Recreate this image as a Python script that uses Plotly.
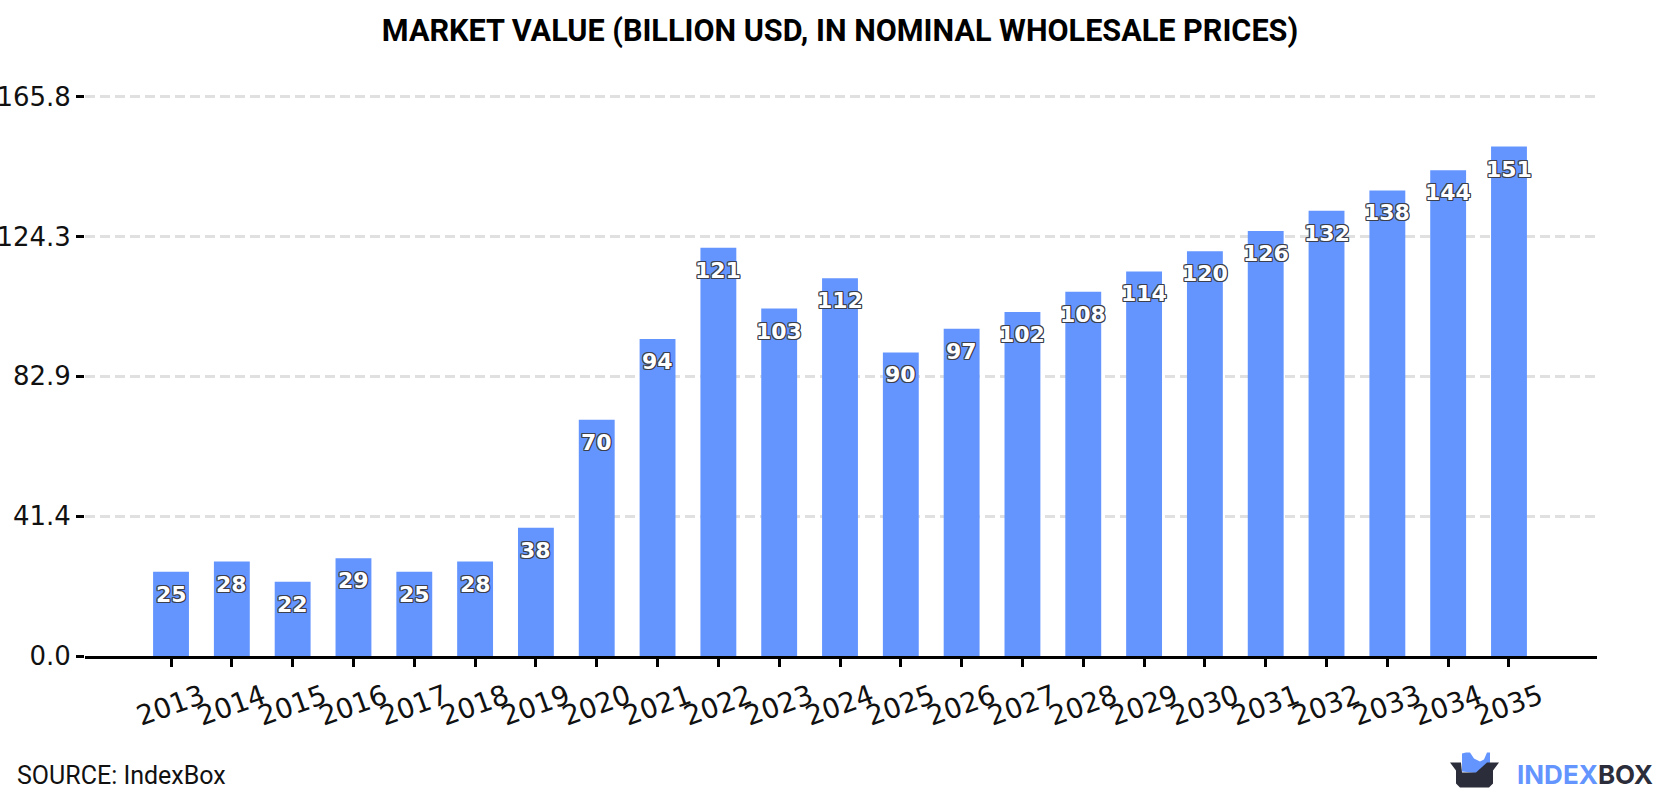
import plotly.graph_objects as go

# Market value by year, billion USD
years = list(range(2013, 2036))
values = [25, 28, 22, 29, 25, 28, 38, 70, 94, 121, 103, 112, 90, 97, 102, 108, 114, 120, 126, 132, 138, 144, 151]
y_ticks = [0.0, 41.4, 82.9, 124.3, 165.8]
title_text = "MARKET VALUE (BILLION USD, IN NOMINAL WHOLESALE PRICES)"
source_text = "SOURCE: IndexBox"

WIDTH, HEIGHT = 1680, 800
LEFT, RIGHT, BOTTOM = 85, 1597, 656.5
PX_PER_UNIT = 3.3764
Y_MAX = 166.6  # a little headroom keeps the top gridline drawn
TOP = BOTTOM - Y_MAX * PX_PER_UNIT
BLUE = "#6495ff"
DARK = "#2b2d3a"


def px(x):
    return (x - LEFT) / (RIGHT - LEFT)


def py(y):
    return (BOTTOM - y) / (BOTTOM - TOP)


def path(points):
    return "M" + " L".join(f"{px(x):.5f},{py(y):.5f}" for x, y in points) + " Z"


OUTLINE = ",".join(f"{dx}px {dy}px 0 #3c404c" for dx in (-1, 0, 1) for dy in (-1, 0, 1) if dx or dy)

fig = go.Figure(go.Bar(x=years, y=values, width=0.59, marker=dict(color=BLUE, line_width=0), hoverinfo="x+y"))

# Value labels sit a fixed distance under each bar top
for year, value in zip(years, values):
    fig.add_annotation(
        x=year, y=value, xref="x", yref="y", yshift=-22.5, text=str(value), showarrow=False,
        font=dict(family="DejaVu Sans", size=22, color="white", weight="bold", shadow=OUTLINE),
    )

fig.add_annotation(
    x=px(15), y=py(776), xref="paper", yref="paper", xanchor="left", yanchor="middle",
    text=source_text, showarrow=False, font=dict(family="Roboto", size=25, color="#111111"),
)
fig.add_annotation(
    x=px(1515), y=py(775), xref="paper", yref="paper", xanchor="left", yanchor="middle", showarrow=False,
    text=f'<b><span style="color:{BLUE}">INDEX</span><span style="color:{DARK}">BOX</span></b>',
    font=dict(family="Inter", size=26),
)

# Brand mark: blue crown behind a dark open box
logo = [
    ([(1462, 772), (1462, 754), (1466, 753), (1470, 753), (1474, 759), (1480, 762), (1484, 760), (1487, 753), (1485, 753), (1490, 753), (1490, 767), (1480, 774)], BLUE),
    ([(1450, 763), (1461, 763), (1462, 773), (1476, 773), (1487, 763), (1499, 763), (1493, 771), (1493, 784), (1489, 788), (1460, 788), (1456, 784), (1456, 771)], DARK),
]
shapes = [
    dict(type="path", xref="paper", yref="paper", path=path(pts), fillcolor=col, line_width=0, layer="above")
    for pts, col in logo
]

fig.update_layout(
    width=WIDTH, height=HEIGHT, margin=dict(l=LEFT, r=WIDTH - RIGHT, t=TOP, b=HEIGHT - BOTTOM, pad=0, autoexpand=False),
    paper_bgcolor="white", plot_bgcolor="white", showlegend=False, shapes=shapes,
    title=dict(
        text=title_text, x=840 / WIDTH, xanchor="center", y=1 - 30 / HEIGHT, yanchor="middle",
        font=dict(family="Roboto", size=30.6, color="black", weight="bold"),
    ),
    xaxis=dict(
        range=[2013 - 86 / 60.8, 2035 + 88 / 60.8], tickmode="array", tickvals=years,
        ticktext=[str(y) for y in years], tickangle=-20, ticklabelshift=31, ticklabelstandoff=3,
        showgrid=False, zeroline=False, showline=True, linecolor="black", linewidth=3,
        ticks="outside", ticklen=8, tickwidth=3, tickcolor="black",
        tickfont=dict(family="DejaVu Sans", size=27.5, color="#111111"),
    ),
    yaxis=dict(
        range=[0, Y_MAX], tickmode="array", tickvals=y_ticks, ticktext=[f"{v:.1f}" for v in y_ticks],
        showgrid=True, gridcolor="#e0e0e0", gridwidth=3, griddash="10px,5px", zeroline=False, showline=False,
        ticks="outside", ticklen=8, tickwidth=3, tickcolor="black",
        tickfont=dict(family="DejaVu Sans", size=26, color="#111111"),
    ),
)

fig.write_html("out.html")
